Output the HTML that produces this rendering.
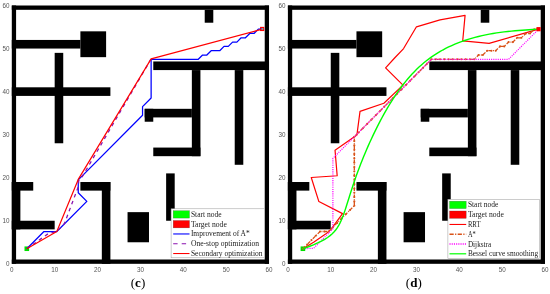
<!DOCTYPE html>
<html><head><meta charset="utf-8"><title>Path planning comparison</title>
<style>
html,body{margin:0;padding:0;background:#fff;}
svg{display:block;}
.lg{font-family:"Liberation Serif",serif;font-size:7.6px;fill:#1a1a1a;}
</style></head><body>
<svg width="550" height="294" viewBox="0 0 550 294">
<rect width="550" height="294" fill="#fff"/>
<g fill="#000"><rect x="11.80" y="259.50" width="257.22" height="4.31"/><rect x="11.80" y="5.50" width="257.22" height="4.30"/><rect x="11.80" y="5.50" width="4.29" height="258.30"/><rect x="264.73" y="5.50" width="4.29" height="258.30"/><rect x="11.80" y="39.94" width="68.59" height="8.61"/><rect x="80.39" y="31.33" width="25.72" height="25.83"/><rect x="54.67" y="52.86" width="8.57" height="90.41"/><rect x="11.80" y="87.30" width="98.60" height="8.61"/><rect x="11.80" y="182.01" width="21.43" height="8.61"/><rect x="11.80" y="182.01" width="8.57" height="47.35"/><rect x="11.80" y="220.75" width="42.87" height="8.61"/><rect x="80.39" y="182.01" width="30.01" height="8.61"/><rect x="101.83" y="182.01" width="8.57" height="81.79"/><rect x="127.55" y="212.14" width="21.44" height="30.13"/><rect x="166.13" y="173.40" width="8.57" height="47.35"/><rect x="153.27" y="61.47" width="115.75" height="8.61"/><rect x="191.85" y="70.08" width="8.57" height="86.10"/><rect x="234.72" y="70.08" width="8.57" height="94.71"/><rect x="144.70" y="108.82" width="47.16" height="8.61"/><rect x="144.70" y="108.82" width="8.57" height="12.91"/><rect x="153.27" y="147.57" width="47.16" height="8.61"/><rect x="204.72" y="9.81" width="8.57" height="12.91"/></g>
<g font-family="Liberation Sans, sans-serif" font-size="6.3" fill="#555"><text x="11.80" y="271.7" text-anchor="middle">0</text><text x="9.60" y="266.10" text-anchor="end">0</text><text x="54.67" y="271.7" text-anchor="middle">10</text><text x="9.60" y="223.05" text-anchor="end">10</text><text x="97.54" y="271.7" text-anchor="middle">20</text><text x="9.60" y="180.00" text-anchor="end">20</text><text x="140.41" y="271.7" text-anchor="middle">30</text><text x="9.60" y="136.95" text-anchor="end">30</text><text x="183.28" y="271.7" text-anchor="middle">40</text><text x="9.60" y="93.90" text-anchor="end">40</text><text x="226.15" y="271.7" text-anchor="middle">50</text><text x="9.60" y="50.85" text-anchor="end">50</text><text x="269.02" y="271.7" text-anchor="middle">60</text><text x="9.60" y="7.80" text-anchor="end">60</text></g>
<rect x="24.50" y="246.43" width="4.60" height="4.60" fill="#00e000" />
<rect x="260.06" y="26.86" width="4.20" height="4.20" fill="#ff0000" />
<polyline points="26.80,248.73 43.95,231.51 56.81,231.51 86.82,201.38 78.25,192.77 78.25,179.85 142.55,115.28 142.55,106.67 151.13,98.06 151.13,59.31 198.28,59.31 202.57,55.01 206.86,55.01 211.15,50.70 215.43,50.70 219.72,50.70 224.01,46.40 228.29,46.40 232.58,42.09 236.87,42.09 241.15,37.79 245.44,37.79 249.73,33.48 254.02,33.48 258.30,29.18 262.59,29.18" fill="none" stroke="#0000ff" stroke-width="1.25" stroke-linejoin="round"/>
<polyline points="26.80,248.73 48.24,233.67 56.81,231.51 64.53,223.33 78.46,186.31 78.68,180.71 81.68,177.70 151.13,58.88" fill="none" stroke="#8a12b0" stroke-width="1.3" stroke-dasharray="3.6,3.8"/>
<polyline points="26.80,248.73 56.81,231.51 78.25,179.42 151.13,58.88 262.59,29.18" fill="none" stroke="#ff0000" stroke-width="1.2" stroke-linejoin="round"/>
<rect x="261.48" y="28.06" width="1.80" height="1.80" fill="#5fb0c0" />
<rect x="171.10" y="208.80" width="93.40" height="49.00" fill="#fff" stroke="#9a9a9a" stroke-width="0.5"/><rect x="173.20" y="210.70" width="16.30" height="7.4" fill="#00ff00" stroke="#333" stroke-opacity="0.55" stroke-width="0.4"/><text x="190.90" y="216.90" class="lg" textLength="30.8" lengthAdjust="spacingAndGlyphs">Start node</text><rect x="173.20" y="220.48" width="16.30" height="7.4" fill="#ff0000" stroke="#333" stroke-opacity="0.55" stroke-width="0.4"/><text x="190.90" y="226.68" class="lg" textLength="35.9" lengthAdjust="spacingAndGlyphs">Target node</text><line x1="173.20" y1="233.96" x2="189.50" y2="233.96" stroke="#0000ff" stroke-width="1.1"/><text x="190.90" y="236.46" class="lg" textLength="58.8" lengthAdjust="spacingAndGlyphs">Improvement of A*</text><line x1="173.20" y1="243.74" x2="189.50" y2="243.74" stroke="#8a12b0" stroke-width="1.2" stroke-dasharray="4.4,4.1"/><text x="190.90" y="246.24" class="lg" textLength="68.2" lengthAdjust="spacingAndGlyphs">One-stop optimization</text><line x1="173.20" y1="253.52" x2="189.50" y2="253.52" stroke="#ff0000" stroke-width="1.1"/><text x="190.90" y="256.02" class="lg" textLength="71.6" lengthAdjust="spacingAndGlyphs">Secondary optimization</text>
<g fill="#000"><rect x="287.90" y="259.50" width="257.10" height="4.31"/><rect x="287.90" y="5.50" width="257.10" height="4.30"/><rect x="287.90" y="5.50" width="4.29" height="258.30"/><rect x="540.71" y="5.50" width="4.29" height="258.30"/><rect x="287.90" y="39.94" width="68.56" height="8.61"/><rect x="356.46" y="31.33" width="25.71" height="25.83"/><rect x="330.75" y="52.86" width="8.57" height="90.41"/><rect x="287.90" y="87.30" width="98.56" height="8.61"/><rect x="287.90" y="182.01" width="21.43" height="8.61"/><rect x="287.90" y="182.01" width="8.57" height="47.35"/><rect x="287.90" y="220.75" width="42.85" height="8.61"/><rect x="356.46" y="182.01" width="30.00" height="8.61"/><rect x="377.88" y="182.01" width="8.57" height="81.79"/><rect x="403.59" y="212.14" width="21.43" height="30.13"/><rect x="442.16" y="173.40" width="8.57" height="47.35"/><rect x="429.30" y="61.47" width="115.70" height="8.61"/><rect x="467.87" y="70.08" width="8.57" height="86.10"/><rect x="510.72" y="70.08" width="8.57" height="94.71"/><rect x="420.74" y="108.82" width="47.13" height="8.61"/><rect x="420.74" y="108.82" width="8.57" height="12.91"/><rect x="429.30" y="147.57" width="47.14" height="8.61"/><rect x="480.73" y="9.81" width="8.57" height="12.91"/></g>
<g font-family="Liberation Sans, sans-serif" font-size="6.3" fill="#555"><text x="287.90" y="271.7" text-anchor="middle">0</text><text x="285.60" y="266.10" text-anchor="end">0</text><text x="330.75" y="271.7" text-anchor="middle">10</text><text x="285.60" y="223.05" text-anchor="end">10</text><text x="373.60" y="271.7" text-anchor="middle">20</text><text x="285.60" y="180.00" text-anchor="end">20</text><text x="416.45" y="271.7" text-anchor="middle">30</text><text x="285.60" y="136.95" text-anchor="end">30</text><text x="459.30" y="271.7" text-anchor="middle">40</text><text x="285.60" y="93.90" text-anchor="end">40</text><text x="502.15" y="271.7" text-anchor="middle">50</text><text x="285.60" y="50.85" text-anchor="end">50</text><text x="545.00" y="271.7" text-anchor="middle">60</text><text x="285.60" y="7.80" text-anchor="end">60</text></g>
<rect x="300.60" y="246.43" width="4.60" height="4.60" fill="#00e000" />
<polyline points="302.90,248.73 313.61,242.28 325.61,234.10 330.75,229.58 342.53,213.65 318.88,201.59 311.25,177.48 337.18,175.76 335.03,150.15 356.89,135.08 360.02,111.40 383.88,103.22 402.95,85.14 385.60,67.92 394.60,58.02 403.59,48.55 416.45,26.81 440.02,19.92 465.08,15.40 462.73,40.80 489.12,43.38 538.57,29.18" fill="none" stroke="#ff0000" stroke-width="1.2" stroke-linejoin="round"/>
<polyline points="302.90,248.73 320.04,231.51 328.61,231.51 354.32,205.68 354.32,136.80 431.45,59.31 474.30,59.31 478.58,55.01 482.87,55.01 487.15,50.70 491.44,50.70 495.72,50.70 500.01,46.40 504.29,46.40 508.58,42.09 512.86,42.09 517.15,37.79 521.43,37.79 525.72,33.48 530.00,33.48 534.29,29.18 538.57,29.18" fill="none" stroke="#d95319" stroke-width="1.3" stroke-dasharray="3.4,1.3,1.0,1.3"/>
<g fill="#d95319"><circle cx="302.90" cy="248.73" r="1.05"/><circle cx="307.18" cy="244.43" r="1.05"/><circle cx="311.47" cy="240.12" r="1.05"/><circle cx="315.75" cy="235.82" r="1.05"/><circle cx="320.04" cy="231.51" r="1.05"/><circle cx="324.32" cy="231.51" r="1.05"/><circle cx="328.61" cy="231.51" r="1.05"/><circle cx="332.89" cy="227.21" r="1.05"/><circle cx="337.18" cy="222.90" r="1.05"/><circle cx="341.46" cy="218.60" r="1.05"/><circle cx="345.75" cy="214.29" r="1.05"/><circle cx="350.03" cy="209.99" r="1.05"/><circle cx="354.32" cy="205.68" r="1.05"/><circle cx="354.32" cy="201.38" r="1.05"/><circle cx="354.32" cy="197.07" r="1.05"/><circle cx="354.32" cy="192.77" r="1.05"/><circle cx="354.32" cy="188.46" r="1.05"/><circle cx="354.32" cy="184.16" r="1.05"/><circle cx="354.32" cy="179.85" r="1.05"/><circle cx="354.32" cy="175.55" r="1.05"/><circle cx="354.32" cy="171.24" r="1.05"/><circle cx="354.32" cy="166.94" r="1.05"/><circle cx="354.32" cy="162.63" r="1.05"/><circle cx="354.32" cy="158.33" r="1.05"/><circle cx="354.32" cy="154.02" r="1.05"/><circle cx="354.32" cy="149.72" r="1.05"/><circle cx="354.32" cy="145.41" r="1.05"/><circle cx="354.32" cy="141.11" r="1.05"/><circle cx="354.32" cy="136.80" r="1.05"/><circle cx="358.60" cy="132.50" r="1.05"/><circle cx="362.89" cy="128.19" r="1.05"/><circle cx="367.17" cy="123.89" r="1.05"/><circle cx="371.46" cy="119.58" r="1.05"/><circle cx="375.74" cy="115.28" r="1.05"/><circle cx="380.03" cy="110.97" r="1.05"/><circle cx="384.31" cy="106.67" r="1.05"/><circle cx="388.60" cy="102.36" r="1.05"/><circle cx="392.88" cy="98.06" r="1.05"/><circle cx="397.17" cy="93.75" r="1.05"/><circle cx="401.45" cy="89.45" r="1.05"/><circle cx="405.74" cy="85.14" r="1.05"/><circle cx="410.02" cy="80.84" r="1.05"/><circle cx="414.31" cy="76.53" r="1.05"/><circle cx="418.59" cy="72.23" r="1.05"/><circle cx="422.88" cy="67.92" r="1.05"/><circle cx="427.16" cy="63.62" r="1.05"/><circle cx="431.45" cy="59.31" r="1.05"/><circle cx="435.73" cy="59.31" r="1.05"/><circle cx="440.02" cy="59.31" r="1.05"/><circle cx="444.30" cy="59.31" r="1.05"/><circle cx="448.59" cy="59.31" r="1.05"/><circle cx="452.87" cy="59.31" r="1.05"/><circle cx="457.16" cy="59.31" r="1.05"/><circle cx="461.44" cy="59.31" r="1.05"/><circle cx="465.73" cy="59.31" r="1.05"/><circle cx="470.01" cy="59.31" r="1.05"/><circle cx="474.30" cy="59.31" r="1.05"/><circle cx="478.58" cy="55.01" r="1.05"/><circle cx="482.87" cy="55.01" r="1.05"/><circle cx="487.15" cy="50.70" r="1.05"/><circle cx="491.44" cy="50.70" r="1.05"/><circle cx="495.72" cy="50.70" r="1.05"/><circle cx="500.01" cy="46.40" r="1.05"/><circle cx="504.29" cy="46.40" r="1.05"/><circle cx="508.58" cy="42.09" r="1.05"/><circle cx="512.86" cy="42.09" r="1.05"/><circle cx="517.15" cy="37.79" r="1.05"/><circle cx="521.43" cy="37.79" r="1.05"/><circle cx="525.72" cy="33.48" r="1.05"/><circle cx="530.00" cy="33.48" r="1.05"/><circle cx="534.29" cy="29.18" r="1.05"/><circle cx="538.57" cy="29.18" r="1.05"/></g>
<polyline points="302.90,248.73 313.61,248.30 332.89,228.93 332.89,158.33 431.45,59.31 508.58,59.31 538.57,29.18" fill="none" stroke="#ff00ff" stroke-width="1.2" stroke-dasharray="1.1,1.1"/>
<polyline points="302.90,248.73 308.49,246.74 313.39,244.83 317.68,242.97 321.43,241.15 324.71,239.34 327.57,237.51 330.07,235.65 332.25,233.75 334.17,231.79 335.87,229.76 337.37,227.65 338.72,225.46 339.95,223.18 341.07,220.81 342.12,218.34 343.12,215.77 344.08,213.11 345.01,210.35 345.94,207.50 346.88,204.56 347.83,201.54 348.80,198.43 349.80,195.25 350.84,191.99 351.91,188.67 353.03,185.28 354.19,181.85 355.40,178.36 356.65,174.84 357.94,171.28 359.29,167.69 360.67,164.07 362.10,160.45 363.57,156.81 365.08,153.17 366.63,149.53 368.21,145.90 369.83,142.29 371.47,138.69 373.15,135.12 374.86,131.58 376.59,128.07 378.35,124.59 380.14,121.16 381.95,117.78 383.78,114.44 385.63,111.15 387.51,107.92 389.40,104.75 391.33,101.63 393.27,98.57 395.24,95.58 397.24,92.65 399.26,89.79 401.31,87.00 403.40,84.27 405.51,81.61 407.66,79.02 409.85,76.49 412.07,74.04 414.34,71.66 416.65,69.34 419.01,67.10 421.42,64.93 423.88,62.82 426.39,60.79 428.96,58.82 431.59,56.92 434.28,55.09 437.03,53.33 439.84,51.64 442.72,50.01 445.66,48.45 448.67,46.96 451.74,45.54 454.87,44.18 458.07,42.89 461.34,41.66 464.66,40.50 468.04,39.41 471.48,38.38 474.96,37.41 478.50,36.51 482.07,35.67 485.69,34.90 489.33,34.18 493.00,33.53 496.68,32.93 500.38,32.39 504.07,31.91 507.75,31.48 511.41,31.10 515.05,30.76 518.63,30.46 522.17,30.20 525.64,29.96 529.03,29.75 532.32,29.56 535.51,29.37 538.57,29.18" fill="none" stroke="#00ff00" stroke-width="1.4"/>
<rect x="536.47" y="27.08" width="4.20" height="4.20" fill="#ff0000" />
<rect x="447.90" y="199.30" width="91.80" height="59.40" fill="#fff" stroke="#9a9a9a" stroke-width="0.5"/><rect x="449.50" y="201.20" width="16.70" height="7.4" fill="#00ff00" stroke="#333" stroke-opacity="0.55" stroke-width="0.4"/><text x="467.90" y="207.40" class="lg" textLength="30.4" lengthAdjust="spacingAndGlyphs">Start node</text><rect x="449.50" y="210.98" width="16.70" height="7.4" fill="#ff0000" stroke="#333" stroke-opacity="0.55" stroke-width="0.4"/><text x="467.90" y="217.18" class="lg" textLength="35.9" lengthAdjust="spacingAndGlyphs">Target node</text><line x1="449.50" y1="224.46" x2="466.20" y2="224.46" stroke="#ff0000" stroke-width="1.1"/><text x="467.90" y="226.96" class="lg" textLength="12.6" lengthAdjust="spacingAndGlyphs">RRT</text><line x1="449.50" y1="234.24" x2="466.20" y2="234.24" stroke="#d95319" stroke-width="1.4" stroke-dasharray="4.2,1.4,1.2,1.4"/><text x="467.90" y="236.74" class="lg" textLength="7.8" lengthAdjust="spacingAndGlyphs">A*</text><line x1="449.50" y1="244.02" x2="466.20" y2="244.02" stroke="#ff00ff" stroke-width="1.3" stroke-dasharray="1.1,1.1"/><text x="467.90" y="246.52" class="lg" textLength="23.3" lengthAdjust="spacingAndGlyphs">Dijkstra</text><line x1="449.50" y1="253.80" x2="466.20" y2="253.80" stroke="#00ff00" stroke-width="1.2"/><text x="467.90" y="256.30" class="lg" textLength="70.2" lengthAdjust="spacingAndGlyphs">Bessel curve smoothing</text>
<text x="138.0" y="286.8" text-anchor="middle" font-family="Liberation Serif, serif" font-size="13" fill="#000">(<tspan font-weight="bold">c</tspan>)</text>
<text x="413.8" y="286.8" text-anchor="middle" font-family="Liberation Serif, serif" font-size="13" fill="#000">(<tspan font-weight="bold">d</tspan>)</text>
</svg>
</body></html>
